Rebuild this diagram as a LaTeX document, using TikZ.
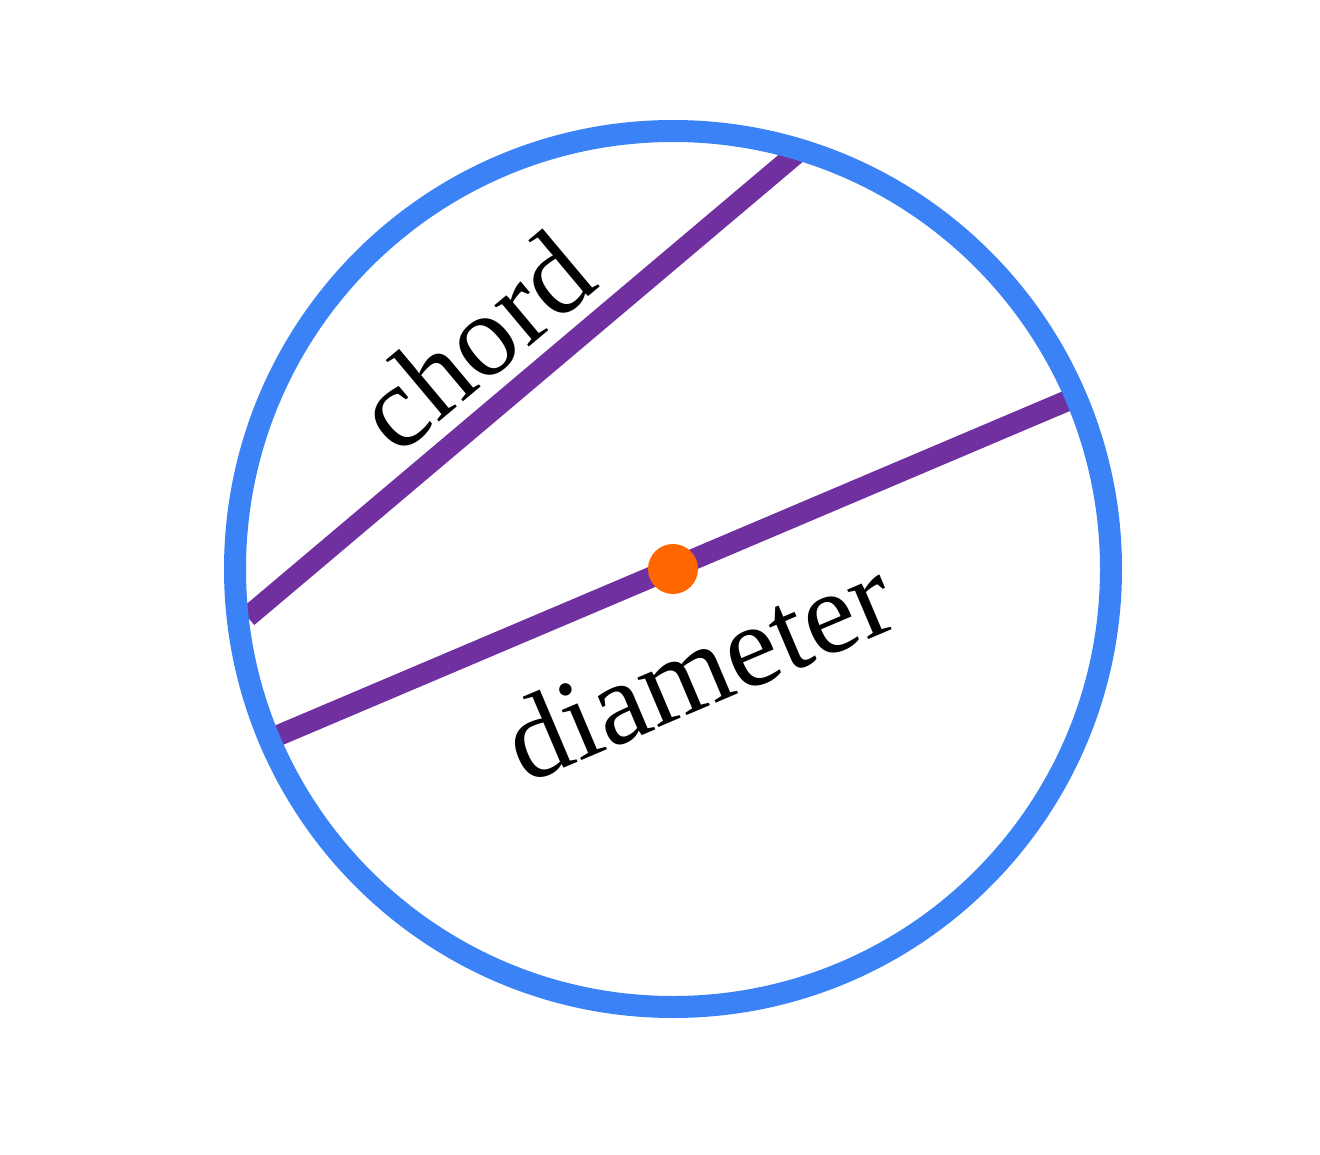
\documentclass[tikz,border=0pt]{standalone}
\usepackage{fontspec}
\setmainfont{Liberation Serif}
\usetikzlibrary{calc}
\definecolor{cblue}{RGB}{59,130,246}
\definecolor{cpurple}{RGB}{112,48,160}
\definecolor{corange}{RGB}{255,102,0}
\begin{document}
\begin{tikzpicture}[x=1pt,y=-1pt,
  seg/.style={draw=cpurple,line width=21pt},
  lbl/.style={font=\fontsize{117}{124}\selectfont,inner sep=0pt}]
\useasboundingbox (0,0) rectangle (1320,1155);
\coordinate (O) at (673,569);
\coordinate (c1) at ($(O)+(-425.5,48)$);
\coordinate (c2) at ($(O)+(124,-416)$);
\coordinate (d1) at ($(O)+(-403,170)$);
\coordinate (d2) at ($(O)+(403,-172)$);
\begin{scope}
\clip (O) circle[radius=440];
\draw[seg] (c1) -- (c2);
\draw[seg] (d1) -- (d2);
\end{scope}
\draw[cblue,line width=22pt] (O) circle[radius=438];
\fill[corange] (O) circle[radius=25];
\node[lbl,rotate=40] (chord) at (474,341) {chord};
\node[lbl,rotate=23] (diam) at (698,668) {diameter};
\end{tikzpicture}
\end{document}
